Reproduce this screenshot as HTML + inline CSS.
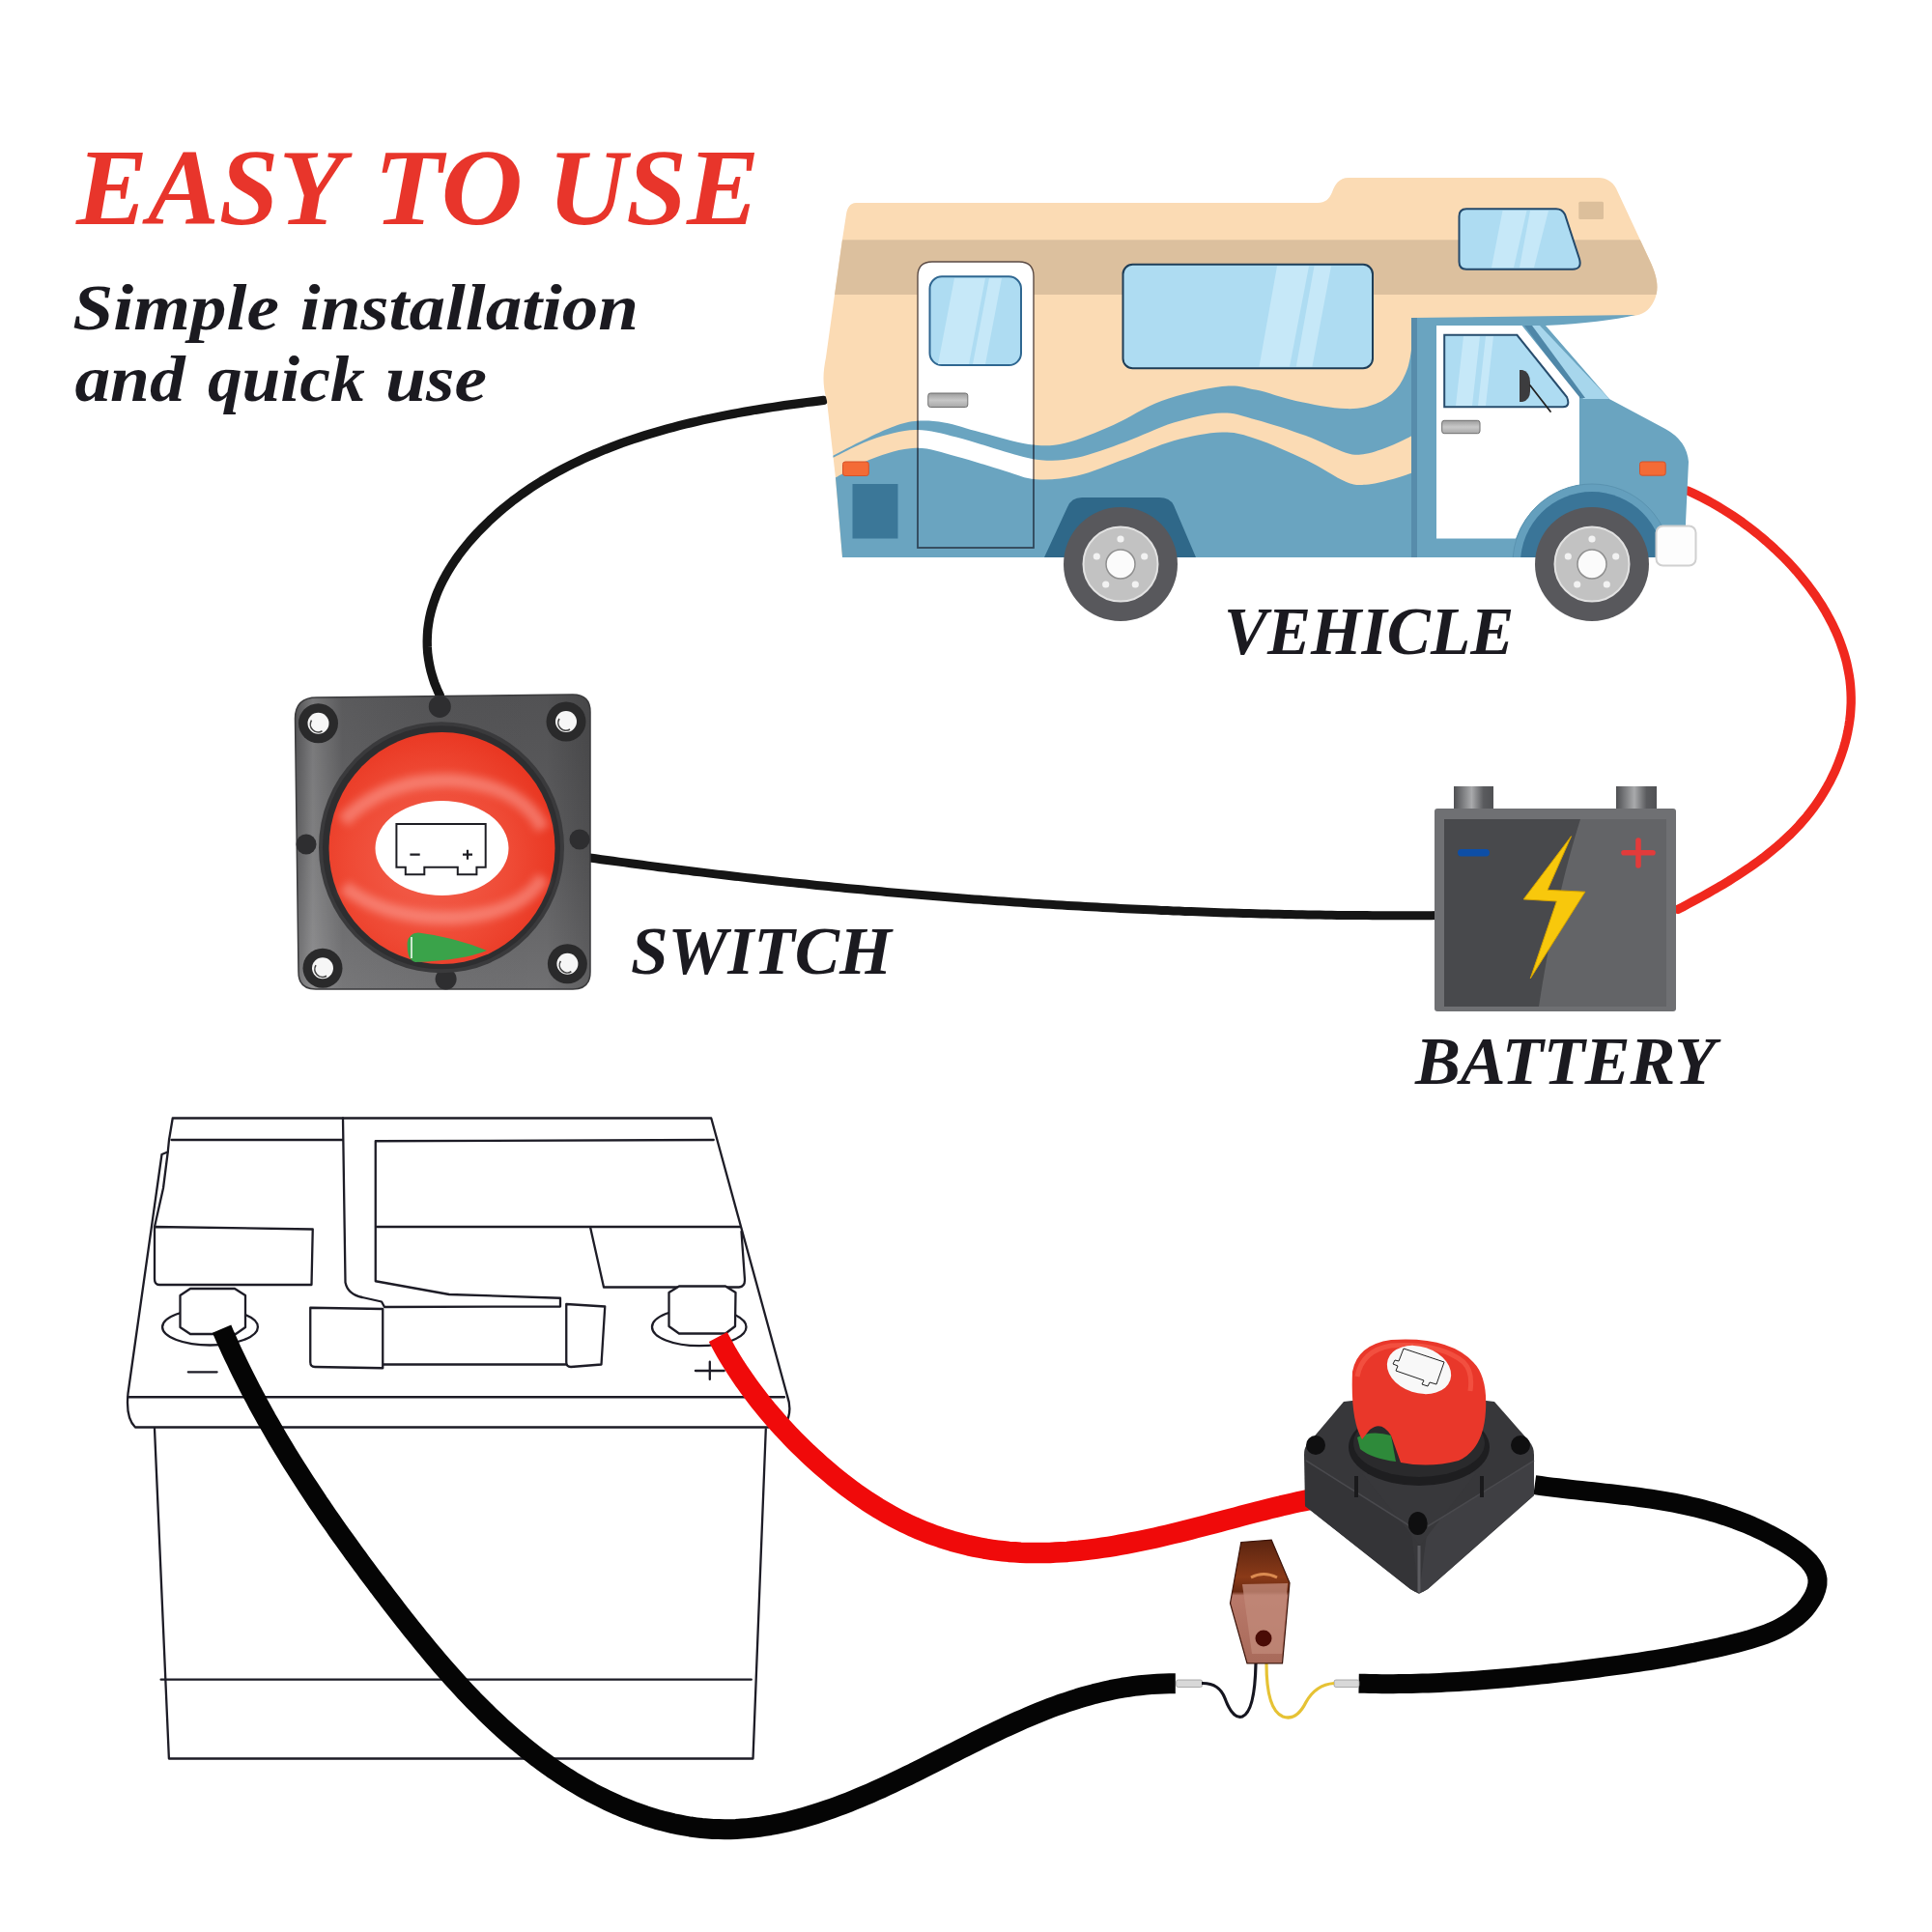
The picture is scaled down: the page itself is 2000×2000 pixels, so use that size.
<!DOCTYPE html>
<html><head><meta charset="utf-8"><style>
html,body{margin:0;padding:0;background:#fff;}
svg{display:block;}
</style></head><body>
<svg width="2000" height="2000" viewBox="0 0 2000 2000">
<rect width="2000" height="2000" fill="#fff"/>

<defs>
<clipPath id="bodyclip"><path id="bodyshape" d="M886 210 L1364 210 C1372 210 1376 206 1379 199 C1382 191 1386 184 1396 184 L1655 184 C1663 184 1669 188 1673 195 L1708 270 C1716 287 1718 300 1712 312 C1707 322 1700 326 1690 327 L1461 330 L1461 577 L872 577 L865 495 L856 415 C851 398 852 385 855 370 L872 248 L876 222 C877 215 880 210 886 210 Z"/></clipPath>
<linearGradient id="handle" x1="0" y1="0" x2="0" y2="1"><stop offset="0" stop-color="#9c9c9c"/><stop offset="0.5" stop-color="#c8c8c8"/><stop offset="1" stop-color="#a8a8a8"/></linearGradient>
<linearGradient id="term" x1="0" y1="0" x2="1" y2="0"><stop offset="0" stop-color="#4e4f52"/><stop offset="0.45" stop-color="#a9aaac"/><stop offset="0.75" stop-color="#5a5b5e"/><stop offset="1" stop-color="#505154"/></linearGradient>
<radialGradient id="knob" cx="0.5" cy="0.5" r="0.5"><stop offset="0" stop-color="#f04a3a"/><stop offset="0.7" stop-color="#e63a2c"/><stop offset="1" stop-color="#d82a20"/></radialGradient>
<linearGradient id="base" x1="0" y1="0" x2="1" y2="1"><stop offset="0" stop-color="#2e2e30"/><stop offset="0.5" stop-color="#4a4a4c"/><stop offset="1" stop-color="#2a2a2c"/></linearGradient>
<linearGradient id="fuse" x1="0" y1="0" x2="0" y2="1"><stop offset="0" stop-color="#5a2410"/><stop offset="0.3" stop-color="#8a3a18"/><stop offset="0.42" stop-color="#6a2a12"/><stop offset="0.45" stop-color="#b9796a"/><stop offset="1" stop-color="#a86a5a"/></linearGradient>
</defs>
<g font-family="Liberation Serif" font-weight="bold" font-style="italic"><text x="79.0" y="232" font-size="111.5" fill="#e8352b" textLength="277.2" lengthAdjust="spacingAndGlyphs">EASY</text><text x="387.0" y="232" font-size="111.5" fill="#e8352b" textLength="154.1" lengthAdjust="spacingAndGlyphs">TO</text><text x="567.0" y="232" font-size="111.5" fill="#e8352b" textLength="219.2" lengthAdjust="spacingAndGlyphs">USE</text><text x="75.2" y="340.5" font-size="67" fill="#1b1a20" textLength="213.9" lengthAdjust="spacingAndGlyphs">Simple</text><text x="310.8" y="340.5" font-size="67" fill="#1b1a20" textLength="350.3" lengthAdjust="spacingAndGlyphs">installation</text><text x="77.4" y="415" font-size="67" fill="#1b1a20" textLength="114.2" lengthAdjust="spacingAndGlyphs">and</text><text x="214.9" y="415" font-size="67" fill="#1b1a20" textLength="162.8" lengthAdjust="spacingAndGlyphs">quick</text><text x="399.1" y="415" font-size="67" fill="#1b1a20" textLength="104.9" lengthAdjust="spacingAndGlyphs">use</text><text x="1267.0" y="677" font-size="69" fill="#1b1a20" textLength="300.2" lengthAdjust="spacingAndGlyphs">VEHICLE</text><text x="653.0" y="1008" font-size="69" fill="#1b1a20" textLength="270.0" lengthAdjust="spacingAndGlyphs">SWITCH</text><text x="1465.0" y="1121.5" font-size="69" fill="#1b1a20" textLength="311.1" lengthAdjust="spacingAndGlyphs">BATTERY</text></g><path d="M852.6 414.4 L846.9 415.1 L841.1 415.8 L835.3 416.5 L829.5 417.3 L823.7 418.1 L817.8 418.9 L811.9 419.7 L806.0 420.6 L800.0 421.5 L794.1 422.4 L788.1 423.4 L782.1 424.3 L776.1 425.4 L770.0 426.4 L764.0 427.5 L757.9 428.6 L751.9 429.8 L745.8 431.0 L739.8 432.2 L733.7 433.5 L727.6 434.8 L721.6 436.2 L715.5 437.6 L709.4 439.1 L703.4 440.6 L697.3 442.2 L691.3 443.8 L685.3 445.5 L679.3 447.2 L673.3 449.0 L667.4 450.8 L661.4 452.7 L655.5 454.7 L649.6 456.7 L643.8 458.7 L637.9 460.9 L632.1 463.1 L626.4 465.3 L620.6 467.7 L614.9 470.1 L609.3 472.6 L603.7 475.1 L598.1 477.7 L592.5 480.4 L587.1 483.2 L581.6 486.0 L576.2 488.9 L570.9 491.9 L565.6 495.0 L560.4 498.1 L555.2 501.4 L550.1 504.7 L545.1 508.1 L540.1 511.6 L535.2 515.2 L530.3 518.8 L525.6 522.6 L520.9 526.4 L516.2 530.4 L511.7 534.4 L507.2 538.5 L502.8 542.8 L498.5 547.1 L494.2 551.5 L490.1 556.0 L486.0 560.6 L482.1 565.4 L478.3 570.2 L474.6 575.0 L471.1 580.0 L467.7 585.1 L464.5 590.2 L461.5 595.4 L458.6 600.7 L456.0 606.1 L453.5 611.6 L451.3 617.1 L449.3 622.7 L447.5 628.3 L445.9 634.1 L444.6 639.8 L443.6 645.7 L442.8 651.6 L442.4 657.6 L442.2 663.6 L442.3 669.7 L442.7 675.8 L443.5 682.0 L444.6 688.2 L446.0 694.5 L447.8 700.8 L449.9 707.2 L452.5 713.6 L455.4 720.0" fill="none" stroke="#151515" stroke-width="9.3" stroke-linecap="round" stroke-linejoin="round"/><path d="M610.5 888.0 L616.5 888.8 L622.5 889.7 L628.6 890.5 L634.6 891.3 L640.6 892.1 L646.6 892.9 L652.6 893.7 L658.6 894.5 L664.6 895.3 L670.7 896.1 L676.7 896.9 L682.7 897.7 L688.7 898.4 L694.7 899.2 L700.8 899.9 L706.8 900.7 L712.8 901.4 L718.8 902.2 L724.9 902.9 L730.9 903.6 L736.9 904.4 L742.9 905.1 L749.0 905.8 L755.0 906.5 L761.0 907.2 L767.0 907.9 L773.1 908.6 L779.1 909.3 L785.1 909.9 L791.2 910.6 L797.2 911.3 L803.2 911.9 L809.3 912.6 L815.3 913.2 L821.3 913.9 L827.4 914.5 L833.4 915.1 L839.4 915.8 L845.5 916.4 L851.5 917.0 L857.5 917.6 L863.6 918.2 L869.6 918.8 L875.7 919.4 L881.7 920.0 L887.7 920.6 L893.8 921.1 L899.8 921.7 L905.9 922.3 L911.9 922.8 L917.9 923.4 L924.0 923.9 L930.0 924.4 L936.1 925.0 L942.1 925.5 L948.2 926.0 L954.2 926.5 L960.3 927.0 L966.3 927.5 L972.4 928.0 L978.4 928.5 L984.5 929.0 L990.5 929.5 L996.6 930.0 L1002.6 930.4 L1008.7 930.9 L1014.7 931.3 L1020.8 931.8 L1026.8 932.2 L1032.9 932.7 L1038.9 933.1 L1045.0 933.5 L1051.0 933.9 L1057.1 934.3 L1063.1 934.8 L1069.2 935.2 L1075.2 935.5 L1081.3 935.9 L1087.3 936.3 L1093.4 936.7 L1099.5 937.1 L1105.5 937.4 L1111.6 937.8 L1117.6 938.1 L1123.7 938.5 L1129.7 938.8 L1135.8 939.1 L1141.9 939.5 L1147.9 939.8 L1154.0 940.1 L1160.0 940.4 L1166.1 940.7 L1172.2 941.0 L1178.2 941.3 L1184.3 941.6 L1190.3 941.8 L1196.4 942.1 L1202.5 942.4 L1208.5 942.6 L1214.6 942.9 L1220.7 943.1 L1226.7 943.4 L1232.8 943.6 L1238.8 943.8 L1244.9 944.1 L1251.0 944.3 L1257.0 944.5 L1263.1 944.7 L1269.2 944.9 L1275.2 945.1 L1281.3 945.2 L1287.4 945.4 L1293.4 945.6 L1299.5 945.8 L1305.6 945.9 L1311.6 946.1 L1317.7 946.2 L1323.8 946.3 L1329.8 946.5 L1335.9 946.6 L1342.0 946.7 L1348.0 946.8 L1354.1 946.9 L1360.2 947.0 L1366.2 947.1 L1372.3 947.2 L1378.4 947.3 L1384.4 947.4 L1390.5 947.4 L1396.6 947.5 L1402.6 947.5 L1408.7 947.6 L1414.8 947.6 L1420.8 947.7 L1426.9 947.7 L1433.0 947.7 L1439.1 947.7 L1445.1 947.7 L1451.2 947.8 L1457.3 947.7 L1463.3 947.7 L1469.4 947.7 L1475.5 947.7 L1481.5 947.7 L1487.6 947.6" fill="none" stroke="#151515" stroke-width="9" stroke-linecap="round" stroke-linejoin="round"/><path d="M1746.9 507.9 L1752.1 510.3 L1757.3 512.8 L1762.5 515.4 L1767.7 518.2 L1772.9 521.0 L1778.1 524.0 L1783.2 527.1 L1788.4 530.4 L1793.5 533.7 L1798.6 537.2 L1803.7 540.7 L1808.7 544.4 L1813.6 548.2 L1818.5 552.0 L1823.4 556.0 L1828.2 560.1 L1832.9 564.3 L1837.5 568.5 L1842.1 572.9 L1846.6 577.3 L1851.0 581.8 L1855.3 586.4 L1859.5 591.1 L1863.6 595.9 L1867.5 600.7 L1871.4 605.7 L1875.2 610.7 L1878.8 615.7 L1882.2 620.8 L1885.6 626.0 L1888.8 631.3 L1891.8 636.6 L1894.7 642.0 L1897.5 647.4 L1900.1 652.9 L1902.5 658.4 L1904.7 664.0 L1906.7 669.6 L1908.6 675.2 L1910.3 680.9 L1911.8 686.7 L1913.0 692.5 L1914.1 698.3 L1915.0 704.1 L1915.6 710.0 L1916.0 715.9 L1916.2 721.8 L1916.2 727.7 L1915.9 733.7 L1915.5 739.6 L1914.8 745.6 L1913.9 751.5 L1912.8 757.5 L1911.5 763.4 L1910.0 769.3 L1908.3 775.1 L1906.4 780.9 L1904.3 786.7 L1902.1 792.4 L1899.7 798.1 L1897.0 803.6 L1894.3 809.2 L1891.3 814.6 L1888.2 819.9 L1885.0 825.2 L1881.5 830.4 L1878.0 835.4 L1874.2 840.4 L1870.4 845.2 L1866.3 849.9 L1862.2 854.6 L1857.9 859.1 L1853.6 863.5 L1849.1 867.7 L1844.5 871.9 L1839.8 876.0 L1835.0 880.0 L1830.2 883.9 L1825.3 887.8 L1820.3 891.5 L1815.2 895.1 L1810.1 898.7 L1804.9 902.2 L1799.7 905.6 L1794.5 908.9 L1789.3 912.2 L1784.0 915.4 L1778.7 918.5 L1773.4 921.6 L1768.1 924.6 L1762.9 927.5 L1757.6 930.4 L1752.4 933.2 L1747.2 936.0 L1742.0 938.8 L1736.9 941.4" fill="none" stroke="#f0281e" stroke-width="9.3" stroke-linecap="round" stroke-linejoin="round"/><use href="#bodyshape" fill="#fbdbb4"/><g clip-path="url(#bodyclip)"><rect x="840" y="248.3" width="900" height="56.7" fill="#dcc09e"/><path d="M950 567 L950 286 Q950 271 965 271 L1055 271 Q1070 271 1070 286 L1070 567 Z" fill="#fff"/><path d="M858.0 474.0 C863.3 471.2 879.2 462.8 890.0 457.5 C900.8 452.2 912.9 446.1 922.5 442.5 C932.1 438.9 938.3 436.8 947.5 436.0 C956.7 435.2 966.2 435.6 977.5 437.5 C988.8 439.4 1000.4 443.8 1015.0 447.5 C1029.6 451.2 1050.4 458.1 1065.0 460.0 C1079.6 461.9 1087.9 462.1 1102.5 458.8 C1117.1 455.4 1135.8 447.3 1152.5 440.0 C1169.2 432.7 1183.8 421.7 1202.5 415.0 C1221.2 408.3 1248.8 401.9 1265.0 400.0 C1281.2 398.1 1287.3 401.0 1300.0 403.5 C1312.7 406.0 1325.9 411.6 1341.4 414.9 C1356.9 418.2 1379.4 422.6 1393.2 423.1 C1407.0 423.6 1415.6 421.3 1424.2 418.0 C1432.8 414.7 1439.5 409.7 1445.0 403.5 C1450.5 397.3 1454.5 388.8 1457.3 380.7 C1460.1 372.6 1461.2 359.3 1462.0 355.0 L1462.0 451.0 C1458.3 452.7 1447.7 458.3 1439.7 461.4 C1431.7 464.5 1421.7 468.5 1413.9 469.7 C1406.2 470.9 1403.6 471.8 1393.2 468.7 C1382.8 465.6 1367.3 456.8 1351.8 451.1 C1336.3 445.4 1314.5 438.4 1300.0 434.5 C1285.5 430.6 1279.2 427.0 1265.0 427.5 C1250.8 428.0 1231.7 432.5 1215.0 437.5 C1198.3 442.5 1181.7 451.5 1165.0 457.5 C1148.3 463.5 1129.6 470.6 1115.0 473.8 C1100.4 476.9 1090.0 477.3 1077.5 476.2 C1065.0 475.2 1054.6 471.5 1040.0 467.5 C1025.4 463.5 1005.4 456.2 990.0 452.5 C974.6 448.8 962.1 444.6 947.5 445.0 C932.9 445.4 917.4 449.8 902.5 455.0 C887.6 460.2 865.4 472.5 858.0 476.0 Z" fill="#6aa4c0"/><path d="M864.0 495.0 C870.4 491.7 888.6 480.2 902.5 475.0 C916.4 469.8 932.9 464.2 947.5 463.8 C962.1 463.3 974.6 468.5 990.0 472.5 C1005.4 476.5 1026.2 483.5 1040.0 487.5 C1053.8 491.5 1060.0 495.4 1072.5 496.2 C1085.0 497.1 1099.6 496.0 1115.0 492.5 C1130.4 489.0 1148.3 481.0 1165.0 475.0 C1181.7 469.0 1198.3 460.8 1215.0 456.2 C1231.7 451.7 1250.8 447.8 1265.0 447.5 C1279.2 447.2 1285.5 449.4 1300.0 454.2 C1314.5 458.9 1336.3 468.6 1351.8 476.0 C1367.3 483.4 1382.8 494.4 1393.2 498.7 C1403.6 503.0 1406.2 502.1 1413.9 501.8 C1421.7 501.5 1431.7 498.7 1439.7 496.6 C1447.7 494.5 1458.3 490.6 1462.0 489.4 L1470 500 L1470 580 L860 580 Z" fill="#6aa4c0"/></g><path d="M950 567 L950 286 Q950 271 965 271 L1055 271 Q1070 271 1070 286 L1070 567 Z" fill="none" stroke="#5a4a44" stroke-width="1.4"/><clipPath id="lowclip"><path d="M864.0 495.0 C870.4 491.7 888.6 480.2 902.5 475.0 C916.4 469.8 932.9 464.2 947.5 463.8 C962.1 463.3 974.6 468.5 990.0 472.5 C1005.4 476.5 1026.2 483.5 1040.0 487.5 C1053.8 491.5 1060.0 495.4 1072.5 496.2 C1085.0 497.1 1099.6 496.0 1115.0 492.5 C1130.4 489.0 1148.3 481.0 1165.0 475.0 C1181.7 469.0 1198.3 460.8 1215.0 456.2 C1231.7 451.7 1250.8 447.8 1265.0 447.5 C1279.2 447.2 1285.5 449.4 1300.0 454.2 C1314.5 458.9 1336.3 468.6 1351.8 476.0 C1367.3 483.4 1382.8 494.4 1393.2 498.7 C1403.6 503.0 1406.2 502.1 1413.9 501.8 C1421.7 501.5 1431.7 498.7 1439.7 496.6 C1447.7 494.5 1458.3 490.6 1462.0 489.4 L1470 500 L1470 580 L860 580 Z"/><path d="M858.0 474.0 C863.3 471.2 879.2 462.8 890.0 457.5 C900.8 452.2 912.9 446.1 922.5 442.5 C932.1 438.9 938.3 436.8 947.5 436.0 C956.7 435.2 966.2 435.6 977.5 437.5 C988.8 439.4 1000.4 443.8 1015.0 447.5 C1029.6 451.2 1050.4 458.1 1065.0 460.0 C1079.6 461.9 1087.9 462.1 1102.5 458.8 C1117.1 455.4 1135.8 447.3 1152.5 440.0 C1169.2 432.7 1183.8 421.7 1202.5 415.0 C1221.2 408.3 1248.8 401.9 1265.0 400.0 C1281.2 398.1 1287.3 401.0 1300.0 403.5 C1312.7 406.0 1325.9 411.6 1341.4 414.9 C1356.9 418.2 1379.4 422.6 1393.2 423.1 C1407.0 423.6 1415.6 421.3 1424.2 418.0 C1432.8 414.7 1439.5 409.7 1445.0 403.5 C1450.5 397.3 1454.5 388.8 1457.3 380.7 C1460.1 372.6 1461.2 359.3 1462.0 355.0 L1462.0 451.0 C1458.3 452.7 1447.7 458.3 1439.7 461.4 C1431.7 464.5 1421.7 468.5 1413.9 469.7 C1406.2 470.9 1403.6 471.8 1393.2 468.7 C1382.8 465.6 1367.3 456.8 1351.8 451.1 C1336.3 445.4 1314.5 438.4 1300.0 434.5 C1285.5 430.6 1279.2 427.0 1265.0 427.5 C1250.8 428.0 1231.7 432.5 1215.0 437.5 C1198.3 442.5 1181.7 451.5 1165.0 457.5 C1148.3 463.5 1129.6 470.6 1115.0 473.8 C1100.4 476.9 1090.0 477.3 1077.5 476.2 C1065.0 475.2 1054.6 471.5 1040.0 467.5 C1025.4 463.5 1005.4 456.2 990.0 452.5 C974.6 448.8 962.1 444.6 947.5 445.0 C932.9 445.4 917.4 449.8 902.5 455.0 C887.6 460.2 865.4 472.5 858.0 476.0 Z"/></clipPath><path d="M950 567 L950 286 Q950 271 965 271 L1055 271 Q1070 271 1070 286 L1070 567 Z" fill="none" stroke="#2b4a62" stroke-width="1.6" clip-path="url(#lowclip)"/><rect x="962.5" y="286.3" width="94.5" height="91.7" rx="12.5" fill="#aedcf2" stroke="#2f6791" stroke-width="2"/><path d="M988 288 L1020 288 L1003 377 L971 377 Z M1024 288 L1037 288 L1020 377 L1007 377 Z" fill="#c6e8f8"/><rect x="960.8" y="407" width="41" height="14.5" rx="2.5" fill="url(#handle)" stroke="#6e6e6e" stroke-width="1"/><rect x="1162.5" y="273.8" width="258.5" height="107.4" rx="10" fill="#aedcf2" stroke="#1e3d57" stroke-width="2"/><path d="M1322 275.5 L1355 275.5 L1335 379.5 L1303.5 379.5 Z M1360.5 275.5 L1378 275.5 L1358.4 379.5 L1341.8 379.5 Z" fill="#c6e8f8"/><path d="M1518 216.3 L1611 216.3 Q1617 216.3 1620 222 L1635 268 Q1638 278.7 1628 278.7 L1518 278.7 Q1510.5 278.7 1510.5 271 L1510.5 224 Q1510.5 216.3 1518 216.3 Z" fill="#aedcf2" stroke="#24496b" stroke-width="2"/><path d="M1555.5 218 L1580.5 218 L1567 277 L1544 277 Z M1584 218 L1603 218 L1588 277 L1573 277 Z" fill="#c6e8f8"/><rect x="1634.3" y="208.8" width="25.7" height="18.2" rx="1.5" fill="#dcbf9b"/><rect x="872.5" y="478" width="26.8" height="14.5" rx="2.5" fill="#f46b36" stroke="#d4532b" stroke-width="1"/><rect x="882.5" y="501" width="47" height="56.5" fill="#3b7798"/><path d="M1081 577 L1105 525 Q1109 515 1120 515 L1200 515 Q1211 515 1215 523 L1238 577 Z" fill="#2f6889"/><path d="M1461 329 L1693 326 Q1660 334 1600 337 L1666 413 L1724 444 Q1746 456 1748 478 L1745 541 L1745 577 L1461 577 Z" fill="#6aa4c0"/><rect x="1461" y="329" width="6" height="248" fill="#578cab"/><path d="M1585 337 L1594 337 L1666 413 L1639 413 Z" fill="#a7d6ec"/><path d="M1578 337 L1586 337 L1641 412 L1633 412 Z" fill="#4f87a8"/><path d="M1487 337 L1575.5 337 L1635 411 L1635 503 A82 82 0 0 0 1569 557.5 L1487 557.5 Z" fill="#fff"/><path d="M1495.2 346.8 L1570.4 346.8 L1622 411 Q1626 421 1618 421.2 L1495.2 421.2 Z" fill="#aedcf2" stroke="#284d6d" stroke-width="2"/><path d="M1515 348 L1532 348 L1524 420 L1507 420 Z M1538 348 L1546 348 L1538 420 L1530 420 Z" fill="#c6e8f8"/><path d="M1573 383 L1576 383 Q1584 385 1584 396 L1584 405 Q1584 414 1576 416 L1573 416 Z" fill="#3c3c3e"/><path d="M1584 399 L1605 426" stroke="#222" stroke-width="1.8" stroke-linecap="round"/><rect x="1492.7" y="435.3" width="39.3" height="13.4" rx="2.5" fill="url(#handle)" stroke="#6e6e6e" stroke-width="1"/><clipPath id="cabclip"><rect x="1500" y="400" width="300" height="177"/></clipPath><g clip-path="url(#cabclip)"><circle cx="1648" cy="583" r="82" fill="#649fbd" stroke="#5a93b0" stroke-width="1"/><circle cx="1648" cy="583" r="74" fill="#3a7598"/></g><rect x="1697.5" y="478" width="26.7" height="14.2" rx="2.5" fill="#f46b36" stroke="#d4532b" stroke-width="1"/><rect x="1714.5" y="544.5" width="41" height="41" rx="7" fill="#fdfdfd" stroke="#d0d0d0" stroke-width="2"/><circle cx="1160" cy="584" r="59" fill="#58585c"/><circle cx="1160" cy="584" r="38.5" fill="#c2c2c2" stroke="#e2e2e2" stroke-width="2"/><circle cx="1160" cy="584" r="15" fill="#fbfbfb" stroke="#8f8f8f" stroke-width="1.5"/><circle cx="1160.0" cy="558.0" r="3.6" fill="#f2f2f2"/><circle cx="1184.7" cy="576.0" r="3.6" fill="#f2f2f2"/><circle cx="1175.3" cy="605.0" r="3.6" fill="#f2f2f2"/><circle cx="1144.7" cy="605.0" r="3.6" fill="#f2f2f2"/><circle cx="1135.3" cy="576.0" r="3.6" fill="#f2f2f2"/><circle cx="1648" cy="584" r="59" fill="#58585c"/><circle cx="1648" cy="584" r="38.5" fill="#c2c2c2" stroke="#e2e2e2" stroke-width="2"/><circle cx="1648" cy="584" r="15" fill="#fbfbfb" stroke="#8f8f8f" stroke-width="1.5"/><circle cx="1648.0" cy="558.0" r="3.6" fill="#f2f2f2"/><circle cx="1672.7" cy="576.0" r="3.6" fill="#f2f2f2"/><circle cx="1663.3" cy="605.0" r="3.6" fill="#f2f2f2"/><circle cx="1632.7" cy="605.0" r="3.6" fill="#f2f2f2"/><circle cx="1623.3" cy="576.0" r="3.6" fill="#f2f2f2"/><linearGradient id="swb1" x1="0" y1="0" x2="0" y2="1"><stop offset="0" stop-color="#525254"/><stop offset="0.5" stop-color="#5c5c5e"/><stop offset="1" stop-color="#707072"/></linearGradient><linearGradient id="swb2" x1="0" y1="0" x2="1" y2="0"><stop offset="0" stop-color="#ffffff" stop-opacity="0.0"/><stop offset="0.06" stop-color="#ffffff" stop-opacity="0.22"/><stop offset="0.16" stop-color="#ffffff" stop-opacity="0.05"/><stop offset="0.85" stop-color="#000000" stop-opacity="0.0"/><stop offset="1" stop-color="#000000" stop-opacity="0.15"/></linearGradient><radialGradient id="knob2" cx="0.45" cy="0.55" r="0.6"><stop offset="0" stop-color="#f36250"/><stop offset="0.6" stop-color="#ef4a35"/><stop offset="1" stop-color="#e8341f"/></radialGradient><path d="M328 722 L593 719 Q611 719 611 737 L611 1006 Q611 1024 593 1024 L327 1024 Q309 1024 309 1006 L305.5 744 Q305.5 722 328 722 Z" fill="url(#swb1)"/><path d="M328 722 L593 719 Q611 719 611 737 L611 1006 Q611 1024 593 1024 L327 1024 Q309 1024 309 1006 L305.5 744 Q305.5 722 328 722 Z" fill="url(#swb2)"/><path d="M328 722 L593 719 Q611 719 611 737 L611 1006 Q611 1024 593 1024 L327 1024 Q309 1024 309 1006 L305.5 744 Q305.5 722 328 722 Z" fill="none" stroke="#3a3a3c" stroke-width="1.5"/><circle cx="455.3" cy="731.4" r="11.5" fill="#2e2e30"/><circle cx="461.6" cy="1013.5" r="11" fill="#2e2e30"/><circle cx="317" cy="874" r="10.5" fill="#2e2e30"/><circle cx="600" cy="869" r="10.5" fill="#2e2e30"/><circle cx="329.5" cy="748.7" r="20.5" fill="#2a2a2b"/><circle cx="329.5" cy="748.7" r="11" fill="#f6f6f6"/><path d="M322.5 745.7 A8 8 0 0 0 333.5 756.7" stroke="#444" stroke-width="1.6" fill="none"/><circle cx="586" cy="747" r="20.5" fill="#2a2a2b"/><circle cx="586" cy="747" r="11" fill="#f6f6f6"/><path d="M579 744 A8 8 0 0 0 590 755" stroke="#444" stroke-width="1.6" fill="none"/><circle cx="334" cy="1002.2" r="20.5" fill="#2a2a2b"/><circle cx="334" cy="1002.2" r="11" fill="#f6f6f6"/><path d="M327 999.2 A8 8 0 0 0 338 1010.2" stroke="#444" stroke-width="1.6" fill="none"/><circle cx="587.4" cy="997.8" r="20.5" fill="#2a2a2b"/><circle cx="587.4" cy="997.8" r="11" fill="#f6f6f6"/><path d="M580.4 994.8 A8 8 0 0 0 591.4 1005.8" stroke="#444" stroke-width="1.6" fill="none"/><ellipse cx="457" cy="877.3" rx="127" ry="130" fill="#3a3a3c"/><ellipse cx="457" cy="877.3" rx="123" ry="126" fill="#2e2e30"/><ellipse cx="457.5" cy="878" rx="117" ry="120" fill="url(#knob2)"/><filter id="blur4"><feGaussianBlur stdDeviation="4"/></filter><g filter="url(#blur4)" opacity="0.45"><path d="M355 850 Q400 805 470 808 Q540 814 562 858" stroke="#ffb8b0" stroke-width="14" fill="none"/><path d="M356 918 Q400 952 470 950 Q540 946 562 908" stroke="#ffb8b0" stroke-width="14" fill="none"/></g><path d="M421.6 976 Q423 966 433 965.5 Q470 970 504 984 Q480 994 430 996 Q421 994 421.6 976 Z" fill="#3aa34a"/><path d="M426 970 L426 992" stroke="#cde8cf" stroke-width="2"/><ellipse cx="457.5" cy="878" rx="69" ry="49" fill="#fff"/><path d="M410.4 853 L502.7 853 L502.7 897.8 L493.4 897.8 L493.4 905.2 L473.8 905.2 L473.8 897.8 L439.3 897.8 L439.3 905.2 L419.8 905.2 L419.8 897.8 L410.4 897.8 Z" fill="none" stroke="#1e1e24" stroke-width="2"/><path d="M424.4 884.7 L434.7 884.7 M479 884.7 L489 884.7 M484 879.7 L484 889.7" stroke="#1e1e24" stroke-width="2.2"/><rect x="1505" y="814" width="41" height="25" fill="url(#term)"/><rect x="1673" y="814" width="42" height="25" fill="url(#term)"/><rect x="1485" y="837" width="250" height="210" rx="3" fill="#6f7073"/><rect x="1495" y="848" width="230" height="194" fill="#636467"/><path d="M1495 848 L1636 848 Q1610 930 1593 1042 L1495 1042 Z" fill="#48494c"/><rect x="1509" y="879" width="33" height="7.5" rx="3.7" fill="#0d4ea6"/><path d="M1681 882.7 L1711 882.7 M1696 870 L1696 896" stroke="#e23b3b" stroke-width="5.6" stroke-linecap="round"/><path d="M1626.5 865.7 L1577.2 930.9 L1611.4 933 L1584.2 1013 L1640.9 923.2 L1602 921.3 Z" fill="#f8c80c" stroke="#d4a200" stroke-width="1"/><g fill="none" stroke="#1d1c26" stroke-width="2.3" stroke-linejoin="round" stroke-linecap="round"><path d="M178.75 1157.5 L736.25 1157.5 L815 1445 Q821 1462 812 1476 M178.75 1157.5 L175 1180 L173.75 1192.5 L167.5 1195 L132.5 1442.5 Q130 1468 140 1477.5 L810 1477.5"/><path d="M173.75 1192.5 L169 1230 L160 1270 M132.5 1446.25 L812 1446.25"/><path d="M177.5 1180 L355 1180 M355 1157.5 L357.5 1327.5 Q360 1340 375 1343 L395 1347.5 L398 1353 L580 1352.5 L580 1343.75 L465 1340 L388.75 1326.25 L388.75 1181.25 L738.75 1180"/><path d="M160 1270 L323.75 1272.5 L322.5 1330 L165 1330 Q160 1330 160 1324 Z"/><path d="M390 1270 L766.25 1270 M611.25 1271.25 L625 1332.5 L765 1332.5 Q771 1332 771 1325 L767.5 1275"/><path d="M321.25 1353.75 L396.25 1355 L396.25 1416.25 L326 1415 Q321.25 1415 321.25 1410 Z M396.25 1412.5 L586 1412.5 M586.25 1350 L626.25 1352.5 L622.5 1412.5 L591 1415 Q586.25 1415 586.25 1410 Z"/><ellipse cx="217.5" cy="1373.75" rx="49.4" ry="18.75"/><ellipse cx="723.75" cy="1373.75" rx="48.75" ry="19.4"/><path d="M197 1334 L243 1334 L254 1341 L254 1374 L244 1381 L197 1381 L186.5 1374 L186.5 1341 Z" fill="#fff"/><path d="M703 1331.5 L751 1331.5 L761.5 1338 L761 1373 L751 1380.5 L703 1380.5 L692.5 1373 L692.5 1338 Z" fill="#fff"/><path d="M194.8 1420.3 L224.6 1420.3 M719.9 1419 L749.7 1419 M734.8 1409.7 L734.8 1427.9"/><path d="M160 1479 L174.9 1820.5 L779.5 1820.5 L792.8 1479.3 M166.6 1738.7 L777.8 1738.7"/></g><path d="M229.6 1375.6 L232.0 1381.3 L234.5 1386.9 L237.1 1392.6 L239.6 1398.2 L242.2 1403.7 L244.9 1409.3 L247.5 1414.8 L250.2 1420.2 L252.9 1425.7 L255.7 1431.1 L258.4 1436.5 L261.2 1441.9 L264.1 1447.2 L266.9 1452.6 L269.8 1457.9 L272.7 1463.1 L275.6 1468.4 L278.6 1473.6 L281.6 1478.8 L284.6 1484.0 L287.6 1489.2 L290.7 1494.4 L293.8 1499.5 L296.9 1504.6 L300.0 1509.7 L303.2 1514.8 L306.4 1519.8 L309.6 1524.9 L312.8 1529.9 L316.0 1534.9 L319.3 1539.9 L322.6 1544.9 L325.9 1549.9 L329.2 1554.9 L332.6 1559.8 L335.9 1564.8 L339.3 1569.7 L342.7 1574.6 L346.2 1579.5 L349.6 1584.4 L353.1 1589.3 L356.6 1594.2 L360.1 1599.0 L363.6 1603.9 L367.1 1608.8 L370.7 1613.6 L374.2 1618.5 L377.8 1623.3 L381.4 1628.2 L385.0 1633.0 L388.7 1637.8 L392.3 1642.7 L396.0 1647.5 L399.7 1652.3 L403.3 1657.1 L407.1 1662.0 L410.8 1666.8 L414.5 1671.6 L418.3 1676.4 L422.0 1681.2 L425.8 1686.0 L429.6 1690.7 L433.5 1695.5 L437.3 1700.2 L441.2 1704.9 L445.1 1709.6 L449.0 1714.3 L453.0 1719.0 L456.9 1723.6 L460.9 1728.2 L465.0 1732.8 L469.0 1737.3 L473.1 1741.8 L477.2 1746.3 L481.4 1750.8 L485.5 1755.2 L489.7 1759.6 L494.0 1763.9 L498.3 1768.2 L502.6 1772.5 L506.9 1776.7 L511.3 1780.9 L515.7 1785.0 L520.1 1789.1 L524.6 1793.1 L529.1 1797.1 L533.7 1801.1 L538.3 1804.9 L542.9 1808.8 L547.6 1812.5 L552.4 1816.2 L557.1 1819.9 L562.0 1823.5 L566.8 1827.0 L571.7 1830.5 L576.7 1833.9 L581.7 1837.2 L586.7 1840.5 L591.8 1843.7 L597.0 1846.8 L602.2 1849.8 L607.4 1852.8 L612.7 1855.7 L618.1 1858.5 L623.5 1861.2 L628.9 1863.9 L634.4 1866.4 L639.9 1868.9 L645.5 1871.2 L651.1 1873.5 L656.7 1875.7 L662.4 1877.7 L668.1 1879.7 L673.8 1881.5 L679.6 1883.3 L685.4 1884.9 L691.2 1886.3 L697.0 1887.7 L702.9 1888.9 L708.7 1890.0 L714.6 1891.0 L720.5 1891.8 L726.4 1892.5 L732.3 1893.0 L738.2 1893.4 L744.1 1893.6 L750.0 1893.7 L756.0 1893.7 L761.9 1893.5 L767.8 1893.1 L773.7 1892.6 L779.6 1892.0 L785.5 1891.3 L791.4 1890.4 L797.3 1889.5 L803.2 1888.4 L809.0 1887.2 L814.9 1885.9 L820.7 1884.5 L826.6 1883.0 L832.4 1881.4 L838.2 1879.7 L844.0 1877.9 L849.7 1876.0 L855.5 1874.1 L861.2 1872.1 L866.9 1870.0 L872.6 1867.9 L878.3 1865.7 L883.9 1863.4 L889.6 1861.1 L895.2 1858.7 L900.8 1856.3 L906.3 1853.8 L911.9 1851.3 L917.4 1848.8 L922.9 1846.2 L928.5 1843.6 L934.0 1840.9 L939.5 1838.2 L944.9 1835.6 L950.4 1832.8 L955.9 1830.1 L961.3 1827.4 L966.8 1824.6 L972.2 1821.9 L977.7 1819.1 L983.1 1816.3 L988.6 1813.6 L994.0 1810.8 L999.4 1808.1 L1004.9 1805.4 L1010.3 1802.6 L1015.8 1799.9 L1021.2 1797.3 L1026.7 1794.6 L1032.2 1792.0 L1037.6 1789.4 L1043.1 1786.9 L1048.6 1784.4 L1054.1 1781.9 L1059.6 1779.5 L1065.1 1777.1 L1070.7 1774.8 L1076.2 1772.5 L1081.8 1770.3 L1087.4 1768.1 L1093.0 1766.0 L1098.6 1764.0 L1104.3 1762.1 L1110.0 1760.2 L1115.6 1758.4 L1121.4 1756.7 L1127.1 1755.1 L1132.9 1753.5 L1138.6 1752.1 L1144.5 1750.7 L1150.3 1749.4 L1156.2 1748.3 L1162.1 1747.2 L1168.0 1746.3 L1174.0 1745.4 L1180.0 1744.7 L1186.0 1744.1 L1192.1 1743.6 L1198.2 1743.2 L1204.4 1742.9 L1210.5 1742.8 L1216.8 1742.8" fill="none" stroke="#050505" stroke-width="21" stroke-linecap="butt" stroke-linejoin="round"/><path d="M743.3 1384.0 L746.1 1389.2 L749.0 1394.5 L751.9 1399.7 L755.0 1404.9 L758.1 1410.0 L761.3 1415.1 L764.6 1420.1 L768.0 1425.1 L771.4 1430.1 L774.9 1435.0 L778.5 1439.9 L782.2 1444.8 L785.9 1449.6 L789.7 1454.4 L793.5 1459.1 L797.5 1463.8 L801.5 1468.4 L805.5 1473.0 L809.6 1477.5 L813.8 1482.0 L818.0 1486.5 L822.3 1490.9 L826.7 1495.3 L831.1 1499.6 L835.5 1503.9 L840.0 1508.1 L844.6 1512.3 L849.2 1516.4 L853.8 1520.4 L858.5 1524.4 L863.3 1528.4 L868.1 1532.3 L872.9 1536.1 L877.8 1539.8 L882.7 1543.5 L887.7 1547.1 L892.8 1550.6 L897.9 1554.1 L903.0 1557.4 L908.2 1560.7 L913.4 1563.8 L918.7 1566.9 L924.0 1569.9 L929.4 1572.7 L934.8 1575.5 L940.3 1578.1 L945.8 1580.7 L951.3 1583.1 L956.9 1585.4 L962.6 1587.6 L968.2 1589.7 L974.0 1591.7 L979.7 1593.5 L985.5 1595.3 L991.3 1596.9 L997.1 1598.4 L1003.0 1599.9 L1008.8 1601.1 L1014.7 1602.3 L1020.7 1603.4 L1026.6 1604.3 L1032.5 1605.1 L1038.5 1605.8 L1044.5 1606.4 L1050.5 1606.8 L1056.5 1607.2 L1062.5 1607.4 L1068.5 1607.5 L1074.6 1607.6 L1080.6 1607.5 L1086.7 1607.4 L1092.8 1607.1 L1098.8 1606.8 L1104.9 1606.4 L1111.0 1605.8 L1117.1 1605.3 L1123.1 1604.6 L1129.2 1603.9 L1135.3 1603.1 L1141.4 1602.2 L1147.5 1601.3 L1153.6 1600.3 L1159.7 1599.2 L1165.7 1598.1 L1171.8 1596.9 L1177.9 1595.7 L1184.0 1594.5 L1190.0 1593.2 L1196.1 1591.9 L1202.1 1590.5 L1208.1 1589.1 L1214.2 1587.6 L1220.2 1586.2 L1226.2 1584.7 L1232.2 1583.2 L1238.1 1581.7 L1244.1 1580.1 L1250.0 1578.6 L1256.0 1577.0 L1261.9 1575.5 L1267.8 1573.9 L1273.7 1572.3 L1279.6 1570.8 L1285.5 1569.2 L1291.3 1567.7 L1297.2 1566.2 L1303.1 1564.6 L1308.9 1563.2 L1314.8 1561.7 L1320.7 1560.3 L1326.5 1558.8 L1332.4 1557.5 L1338.2 1556.1 L1344.1 1554.8 L1350.0 1553.6 L1355.8 1552.4 L1361.7 1551.2" fill="none" stroke="#f00a0a" stroke-width="21.5" stroke-linecap="butt" stroke-linejoin="round"/><path d="M1588.8 1537.2 L1594.8 1538.0 L1600.9 1538.8 L1606.9 1539.6 L1613.0 1540.3 L1619.0 1541.0 L1625.0 1541.7 L1631.1 1542.4 L1637.1 1543.0 L1643.1 1543.7 L1649.2 1544.3 L1655.2 1545.0 L1661.2 1545.6 L1667.2 1546.3 L1673.2 1547.0 L1679.2 1547.7 L1685.2 1548.4 L1691.2 1549.2 L1697.1 1550.0 L1703.1 1550.8 L1709.0 1551.7 L1715.0 1552.6 L1720.9 1553.6 L1726.8 1554.6 L1732.8 1555.7 L1738.7 1556.9 L1744.6 1558.1 L1750.4 1559.4 L1756.3 1560.8 L1762.1 1562.3 L1768.0 1563.9 L1773.8 1565.5 L1779.6 1567.3 L1785.4 1569.1 L1791.2 1571.1 L1796.9 1573.1 L1802.7 1575.3 L1808.4 1577.6 L1814.1 1580.0 L1819.8 1582.6 L1825.5 1585.3 L1831.1 1588.1 L1836.7 1591.1 L1842.4 1594.2 L1847.9 1597.4 L1853.4 1600.9 L1858.8 1604.5 L1863.8 1608.2 L1868.4 1612.2 L1872.5 1616.3 L1875.9 1620.6 L1878.6 1625.1 L1880.5 1629.9 L1881.5 1634.9 L1881.4 1640.0 L1880.2 1645.4 L1878.2 1650.8 L1875.4 1656.1 L1872.1 1661.1 L1868.4 1665.8 L1864.3 1670.1 L1859.9 1674.0 L1855.1 1677.6 L1850.1 1681.0 L1844.9 1684.0 L1839.4 1686.8 L1833.7 1689.4 L1827.9 1691.7 L1821.9 1693.8 L1815.8 1695.8 L1809.7 1697.7 L1803.5 1699.4 L1797.3 1701.0 L1791.1 1702.5 L1785.0 1704.0 L1778.8 1705.4 L1772.7 1706.8 L1766.7 1708.1 L1760.7 1709.3 L1754.7 1710.6 L1748.7 1711.7 L1742.8 1712.9 L1736.9 1714.0 L1731.0 1715.1 L1725.1 1716.1 L1719.2 1717.1 L1713.3 1718.1 L1707.5 1719.0 L1701.6 1719.9 L1695.8 1720.8 L1689.9 1721.7 L1684.1 1722.5 L1678.2 1723.3 L1672.3 1724.1 L1666.5 1724.9 L1660.6 1725.7 L1654.7 1726.5 L1648.7 1727.2 L1642.8 1728.0 L1636.8 1728.7 L1630.9 1729.5 L1624.9 1730.2 L1618.8 1730.9 L1612.8 1731.6 L1606.8 1732.3 L1600.7 1733.0 L1594.6 1733.6 L1588.6 1734.3 L1582.5 1734.9 L1576.4 1735.5 L1570.3 1736.1 L1564.2 1736.7 L1558.1 1737.3 L1551.9 1737.8 L1545.8 1738.3 L1539.7 1738.8 L1533.6 1739.3 L1527.5 1739.7 L1521.3 1740.2 L1515.2 1740.6 L1509.1 1741.0 L1503.0 1741.3 L1496.9 1741.6 L1490.8 1741.9 L1484.7 1742.2 L1478.6 1742.4 L1472.5 1742.6 L1466.5 1742.8 L1460.4 1743.0 L1454.4 1743.1 L1448.3 1743.1 L1442.3 1743.2 L1436.3 1743.2 L1430.4 1743.2 L1424.4 1743.1 L1418.5 1743.0 L1412.5 1742.8 L1406.6 1742.7" fill="none" stroke="#050505" stroke-width="20" stroke-linecap="butt" stroke-linejoin="round"/><rect x="1217.6" y="1739" width="27" height="7.5" rx="2" fill="#d8d8d8" stroke="#999" stroke-width="0.8"/><rect x="1381" y="1739" width="26" height="7.5" rx="2" fill="#d8d8d8" stroke="#999" stroke-width="0.8"/><path d="M1244 1742.5 Q1262 1742 1268 1758 Q1276 1780 1286 1777 Q1299 1772 1300 1722" fill="none" stroke="#15151f" stroke-width="3.2"/><path d="M1311 1722 Q1311 1770 1328 1777 Q1342 1782 1352 1762 Q1362 1744 1381 1742.5" fill="none" stroke="#e6c234" stroke-width="3.2"/><path d="M1284.8 1596.5 L1316.2 1594.2 L1335 1638.6 L1327.5 1721.8 L1291 1721.8 L1273.5 1659.7 Z" fill="url(#fuse)" stroke="#3a1208" stroke-width="1.2"/><path d="M1286 1640 L1333 1639 L1327 1712 L1296 1712 Z" fill="#c08878" opacity="0.8"/><circle cx="1308" cy="1696" r="8.5" fill="#4a0c06"/><path d="M1295 1633 Q1308 1626 1322 1633" stroke="#f0a060" stroke-width="3" fill="none" opacity="0.8"/><linearGradient id="b3l" x1="0" y1="0" x2="1" y2="0"><stop offset="0" stop-color="#2c2c2e"/><stop offset="1" stop-color="#3e3e41"/></linearGradient><path d="M1352 1497 Q1350 1500 1350 1506 L1351 1559 L1460 1645 Q1469 1652 1478 1645 L1588 1548 L1588 1506 Q1588 1498 1583 1492 L1547 1451 L1469 1442 L1391 1451 Z" fill="#37373a"/><path d="M1351 1512 L1460 1580 L1469 1650 L1460 1645 L1351 1559 Z" fill="#343437"/><path d="M1588 1512 L1478 1580 L1469 1650 L1478 1645 L1588 1548 Z" fill="#3f3f43"/><path d="M1410 1525 L1528 1525 L1470 1600 Z" fill="#38383b"/><path d="M1469 1600 L1469 1648" stroke="#5c5c60" stroke-width="3"/><path d="M1352 1512 L1460 1580 M1588 1512 L1478 1580" stroke="#4a4a4e" stroke-width="1.5"/><path d="M1404 1528 L1404 1550 M1534 1528 L1534 1550" stroke="#1a1a1c" stroke-width="4"/><circle cx="1362" cy="1496" r="10" fill="#0f0f10"/><circle cx="1574" cy="1496" r="10" fill="#0f0f10"/><ellipse cx="1467.7" cy="1577" rx="10" ry="12" fill="#0f0f10"/><ellipse cx="1469" cy="1498" rx="73" ry="40" fill="#1e1e20"/><ellipse cx="1469" cy="1494" rx="68" ry="35" fill="#2a2a2c"/><path d="M1405 1488 Q1420 1480 1440 1486 L1445 1513 Q1420 1510 1408 1500 Z" fill="#2e8a3a"/><path d="M1400 1420 Q1405 1392 1440 1387 Q1500 1383 1525 1410 Q1540 1425 1538 1460 Q1536 1500 1510 1512 Q1480 1520 1450 1514 L1440 1486 Q1430 1470 1418 1480 L1410 1490 Q1398 1470 1400 1420 Z" fill="#e9372a"/><path d="M1405 1425 Q1410 1398 1440 1393 Q1490 1390 1515 1410 Q1525 1420 1522 1440" stroke="#f55a48" stroke-width="5" fill="none" opacity="0.7"/><ellipse cx="1469" cy="1418" rx="34" ry="24" transform="rotate(18 1469 1418)" fill="#f8f8f8"/><path d="M1453 1396 L1495 1410 L1487 1433 L1480 1431 L1478 1435 L1472 1433 L1474 1429 L1445 1419 L1447 1414 L1442 1412 L1444 1408 L1448 1409 Z" fill="none" stroke="#222" stroke-width="1"/>
</svg></body></html>
